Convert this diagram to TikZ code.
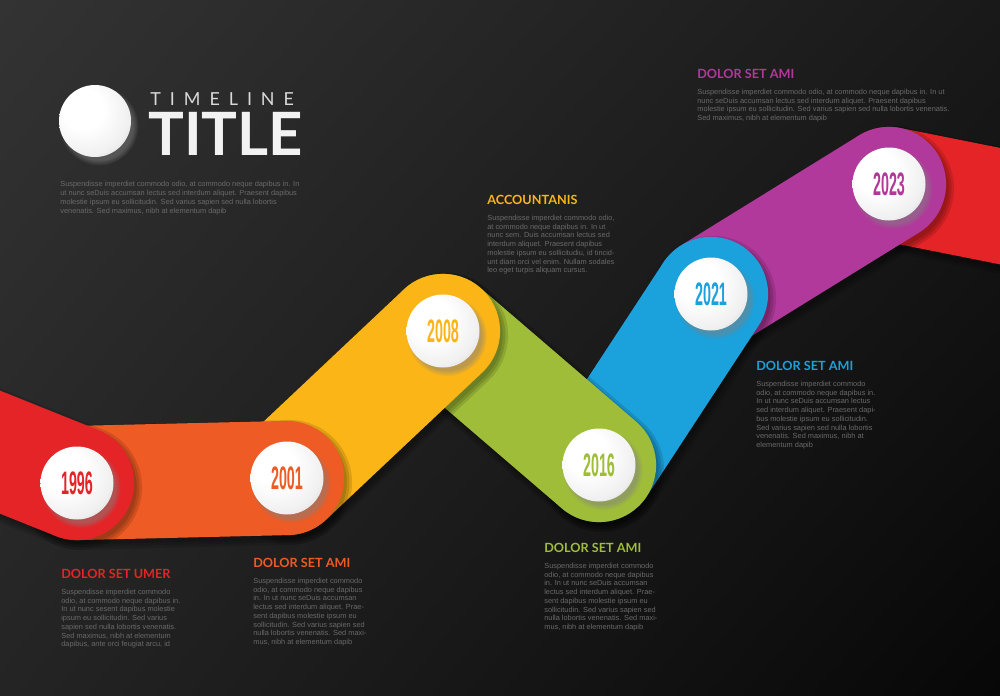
\documentclass[tikz,border=0pt]{standalone}
\usepackage{fontspec}
\setmainfont{Liberation Sans}
\newfontfamily\headfont{Lato}
\newfontfamily\spacedfont[LetterSpace=50]{Lato}
\newfontfamily\yearfont[FakeStretch=0.44]{Liberation Sans}
\usetikzlibrary{positioning,shadows,shadings}

\definecolor{tlRed}{HTML}{E42427}
\definecolor{tlOrange}{HTML}{EE5B24}
\definecolor{tlYellow}{HTML}{FBB517}
\definecolor{tlGreen}{HTML}{A0BD3A}
\definecolor{tlBlue}{HTML}{1BA1DB}
\definecolor{tlPurple}{HTML}{B1399B}
\definecolor{tlText}{HTML}{6A6A6A}
\definecolor{bgTL}{HTML}{333333}
\definecolor{bgTR}{HTML}{191919}
\definecolor{bgBL}{HTML}{242424}
\definecolor{bgBR}{HTML}{070707}

\pgfdeclareradialshading{pearl}{\pgfpoint{-10bp}{10bp}}{color(0bp)=(white); color(14bp)=(white); color(30bp)=(black!6); color(42bp)=(black!20); color(52bp)=(black!34); color(75bp)=(black!40)}

\tikzset{
  band/.style={line width=65pt, line cap=round, draw=#1},
  bandshade/.style={line width=#1, line cap=round, draw=black, opacity=0.12},
  ball/.style={circle, minimum size=14.6mm, inner sep=0pt, shade, shading=pearl,
    circular drop shadow={shadow xshift=0.7mm, shadow yshift=-0.9mm, opacity=0.5}},
  year/.style={ball, text=#1, font=\yearfont\bfseries\fontsize{18.5}{19}\selectfont},
  head/.style={anchor=base west, inner sep=0pt, text=#1, font=\headfont\bfseries\fontsize{7.2}{8}\selectfont},
  body/.style={inner sep=0pt, align=left, text=tlText, font=\fontsize{4.2}{5}\selectfont},
  node distance=6pt,
}

% one coloured piece of the ribbon, with its shadow
\newcommand\ribbon[3]{%
  \foreach \w in {71,68,65}
    \draw[bandshade=\w pt, transform canvas={shift={(1.5pt,-2.5pt)}}] (#2) -- (#3);
  \draw[band=#1] (#2) -- (#3);
}

\begin{document}
\begin{tikzpicture}[x=0.2mm, y=-0.2mm]
    \useasboundingbox (0,0) rectangle (1000,695);
    \shade[upper left=bgTL, upper right=bgTR, lower left=bgBL, lower right=bgBR] (0,0) rectangle (1000,695);

    \coordinate (pL) at (-200,372);
    \coordinate (p1996) at (77,483);
    \coordinate (p2001) at (287,478);
    \coordinate (p2008) at (443,331);
    \coordinate (p2016) at (599,465);
    \coordinate (p2021) at (711,294);
    \coordinate (p2023) at (889,184);
    \coordinate (pR) at (1200,246);

    % ribbon, back to front
    \ribbon{tlRed}{pR}{p2023}
    \ribbon{tlPurple}{p2021}{p2023}
    \ribbon{tlBlue}{p2016}{p2021}
    \ribbon{tlGreen}{p2008}{p2016}
    \ribbon{tlYellow}{p2001}{p2008}
    \ribbon{tlOrange}{p1996}{p2001}
    \ribbon{tlRed}{pL}{p1996}

    \node[year=tlRed] (y1996) at (p1996) {1996};
    \node[year=tlOrange] (y2001) at (p2001) {2001};
    \node[year=tlYellow] (y2008) at (p2008) {2008};
    \node[year=tlGreen] (y2016) at (p2016) {2016};
    \node[year=tlBlue] (y2021) at (p2021) {2021};
    \node[year=tlPurple] (y2023) at (p2023) {2023};

    % title
    \node[ball, minimum size=14.4mm] (logo) at (95,121) {};
    \node[anchor=base west, inner sep=0pt, text=black!15, font=\spacedfont\fontsize{10.2}{11}\selectfont] (kicker) at (150,105) {TIMELINE};
    \node[anchor=base west, inner sep=0pt, text=black!5, font=\headfont\bfseries\fontsize{34}{36}\selectfont] (title) at (148,155) {TITLE};
    \node[body, anchor=north west] (intro) at (60,181) {Suspendisse imperdiet commodo odio, at commodo neque dapibus in. In\\ut nunc seDuis accumsan lectus sed interdum aliquet. Praesent dapibus\\molestie ipsum eu sollicitudin. Sed varius sapien sed nulla lobortis\\venenatis. Sed maximus, nibh at elementum dapib};

    % texts
    \node[head=tlRed] (hd1996) at (61,578) {DOLOR SET UMER};
    \node[body, below=of hd1996.base west, anchor=north west] (tx1996) {Suspendisse imperdiet commodo\\odio, at commodo neque dapibus in.\\In ut nunc sesent dapibus molestie\\ipsum eu sollicitudin. Sed varius\\sapien sed nulla lobortis venenatis.\\Sed maximus, nibh at elementum\\dapibus, ante orci feugiat arcu, id};

    \node[head=tlOrange] (hd2001) at (253,567) {DOLOR SET AMI};
    \node[body, below=of hd2001.base west, anchor=north west] (tx2001) {Suspendisse imperdiet commodo\\odio, at commodo neque dapibus\\in. In ut nunc seDuis accumsan\\lectus sed interdum aliquet. Prae-\\sent dapibus molestie ipsum eu\\sollicitudin. Sed varius sapien sed\\nulla lobortis venenatis. Sed maxi-\\mus, nibh at elementum dapib};

    \node[head=tlYellow] (hd2008) at (487,204) {ACCOUNTANIS};
    \node[body, below=of hd2008.base west, anchor=north west] (tx2008) {Suspendisse imperdiet commodo odio,\\at commodo neque dapibus in. In ut\\nunc sem. Duis accumsan lectus sed\\interdum aliquet. Praesent dapibus\\molestie ipsum eu sollicitudiu, id tincid-\\unt diam orci vel enim. Nullam sodales\\leo eget turpis aliquam cursus.};

    \node[head=tlGreen] (hd2016) at (544,552) {DOLOR SET AMI};
    \node[body, below=of hd2016.base west, anchor=north west] (tx2016) {Suspendisse imperdiet commodo\\odio, at commodo neque dapibus\\in. In ut nunc seDuis accumsan\\lectus sed interdum aliquet. Prae-\\sent dapibus molestie ipsum eu\\sollicitudin. Sed varius sapien sed\\nulla lobortis venenatis. Sed maxi-\\mus, nibh at elementum dapib};

    \node[head=tlBlue] (hd2021) at (756,370) {DOLOR SET AMI};
    \node[body, below=of hd2021.base west, anchor=north west] (tx2021) {Suspendisse imperdiet commodo\\odio, at commodo neque dapibus in.\\In ut nunc seDuis accumsan lectus\\sed interdum aliquet. Praesent dapi-\\bus molestie ipsum eu sollicitudin.\\Sed varius sapien sed nulla lobortis\\venenatis. Sed maximus, nibh at\\elementum dapib};

    \node[head=tlPurple] (hd2023) at (697,78) {DOLOR SET AMI};
    \node[body, below=of hd2023.base west, anchor=north west] (tx2023) {Suspendisse imperdiet commodo odio, at commodo neque dapibus in. In ut\\nunc seDuis accumsan lectus sed interdum aliquet. Praesent dapibus\\molestie ipsum eu sollicitudin. Sed varius sapien sed nulla lobortis venenatis.\\Sed maximus, nibh at elementum dapib};
\end{tikzpicture}
\end{document}
